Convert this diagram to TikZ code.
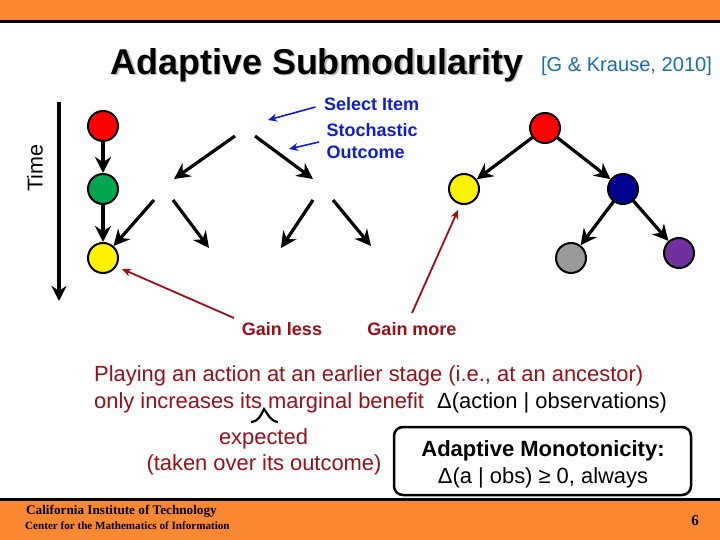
\documentclass[tikz,border=0pt]{standalone}
\usepackage{fontspec}
\setmainfont{Liberation Sans}
\newfontfamily\footserif{Liberation Serif}
\usetikzlibrary{arrows.meta}
\definecolor{bandorange}{RGB}{250,135,50}
\definecolor{darkred}{RGB}{150,15,25}
\definecolor{itemblue}{RGB}{15,30,200}
\definecolor{citeblue}{RGB}{25,110,165}
\definecolor{navydot}{RGB}{0,0,145}
\definecolor{purpledot}{RGB}{112,48,160}
\definecolor{greendot}{RGB}{0,166,80}
\tikzset{
  dot/.style={circle,draw=black,line width=2pt,minimum size=30pt,inner sep=0pt},
  edge/.style={line width=3.2pt,-{Stealth[length=16pt,width=16pt]}},
  note/.style={line width=1.6pt,-{Stealth[length=9pt,width=8pt]},itemblue},
  gain/.style={line width=1.8pt,-{Stealth[length=9pt,width=8pt]},darkred},
  itemtext/.style={font=\fontsize{18}{22}\selectfont\bfseries,text=itemblue,align=left,anchor=west,inner sep=0pt},
  gaintext/.style={font=\fontsize{18}{20}\selectfont\bfseries,text=darkred,inner sep=0pt},
  bodytext/.style={font=\fontsize{21.9}{26}\selectfont,inner sep=0pt}
}
\begin{document}
\begin{tikzpicture}[x=1pt,y=-1pt]
        \useasboundingbox (0,0) rectangle (720,540);
        % Bands
        \fill[bandorange] (0,0) rectangle (720,20);
        \fill[black] (0,20) rectangle (720,23);
        \fill[bandorange] (0,500) rectangle (720,540);
        \fill[black] (0,498) rectangle (720,501);

        % Title
        \node[font=\fontsize{35.9}{40}\selectfont\bfseries,text=black!25,inner sep=0pt] (titleshadow) at (318.5,66.5) {Adaptive Submodularity};
        \node[font=\fontsize{35.9}{40}\selectfont\bfseries,inner sep=0pt] (title) at (317,65) {Adaptive Submodularity};
        \node[font=\fontsize{20.1}{22}\selectfont,text=citeblue,inner sep=0pt] (cite) at (626.5,66.5) {[G \& Krause, 2010]};

        % Time
        \coordinate (timestart) at (59,102);
        \coordinate (timeend) at (59,301);
        \draw[line width=3.4pt,-{Stealth[length=15pt,width=15pt]}] (timestart) -- (timeend);
        \node[rotate=90,font=\fontsize{21.5}{22}\selectfont,inner sep=0pt] (time) at (35,168.5) {Time};

        % Items
        \foreach \name/\px/\py/\col in {redA/103/126/red,greenA/103/189/greendot,yellowA/103/258/yellow,
            redB/545/128/red,yellowB/464/189/yellow,navyB/623/189/navydot,grayB/571/258/black!40,purpleB/679/253/purpledot} {
            \node[dot,fill=\col] (\name) at (\px,\py) {};
        }

        % Sequence and tree
        \draw[edge] (redA) -- (greenA);
        \draw[edge] (greenA) -- (yellowA);
        \draw[edge] (redB) -- (yellowB);
        \draw[edge] (redB) -- (navyB);
        \draw[edge] (navyB) -- (grayB);
        \draw[edge] (navyB) -- (purpleB);

        % Tree without items
        \foreach \name/\px/\py in {ta/235/136,tb/174/179,tc/255/136,td/313/179,
            te/154/200,tg/173/200,th/209/248,ti/313/200,tj/281/248,tk/333/200,tl/371/246} {
            \coordinate (\name) at (\px,\py);
        }
        \draw[edge] (ta) -- (tb);
        \draw[edge] (tc) -- (td);
        \draw[edge] (te) -- (yellowA);
        \draw[edge] (tg) -- (th);
        \draw[edge] (ti) -- (tj);
        \draw[edge] (tk) -- (tl);

        % Labels of the tree
        \node[itemtext] (select) at (324,104) {Select Item};
        \node[itemtext] (outcome) at (326.5,141.5) {Stochastic\\Outcome};
        \coordinate (selectstart) at (315.5,107);
        \coordinate (selectend) at (268,120);
        \coordinate (outcomestart) at (319,142);
        \coordinate (outcomeend) at (289,149);
        \draw[note] (selectstart) -- (selectend);
        \draw[note] (outcomestart) -- (outcomeend);

        % Gain
        \node[gaintext] (less) at (282,329) {Gain less};
        \node[gaintext] (more) at (412,329) {Gain more};
        \coordinate (lessstart) at (234,318);
        \coordinate (lessend) at (122,269);
        \coordinate (morestart) at (412,313);
        \coordinate (moreend) at (458,210);
        \draw[gain] (lessstart) -- (lessend);
        \draw[gain] (morestart) -- (moreend);

        % Text
        \node[bodytext,text=darkred,anchor=west] (playing) at (94,376) {Playing an action at an earlier stage (i.e., at an ancestor)};
        \node[bodytext,text=darkred,anchor=west] (only) at (94,403) {only increases its marginal benefit};
        \node[bodytext,anchor=west] (delta) at (437,403) {Δ(action | observations)};
        \coordinate (hatleft) at (251,422);
        \coordinate (hatright) at (278,422);
        \draw[line width=2.2pt] (hatleft) .. controls (260,421) and (261,414) .. (264,409) .. controls (268,414) and (270,421) .. (hatright);
        \node[bodytext,text=darkred] (expected) at (263.5,439) {expected};
        \node[bodytext,text=darkred] (taken) at (264,465) {(taken over its outcome)};

        % Box
        \draw[line width=2.5pt,rounded corners=9pt,fill=white] (394,427) rectangle (691,495);
        \node[font=\fontsize{22}{26}\selectfont\bfseries,inner sep=0pt] (mono) at (543,451) {Adaptive Monotonicity:};
        \node[font=\fontsize{21.9}{26}\selectfont,inner sep=0pt] (obs) at (543,478) {Δ(a | obs) ≥ 0, always};

        % Footer
        \node[font=\footserif\fontsize{13.2}{16}\selectfont\bfseries,inner sep=0pt,anchor=west] (caltech) at (26,511) {California Institute of Technology};
        \node[font=\footserif\fontsize{11.1}{16}\selectfont\bfseries,inner sep=0pt,anchor=west] (center) at (25,526) {Center for the Mathematics of Information};
        \node[font=\footserif\fontsize{15}{16}\selectfont\bfseries,inner sep=0pt] (page) at (695,520.5) {6};
\end{tikzpicture}
\end{document}
